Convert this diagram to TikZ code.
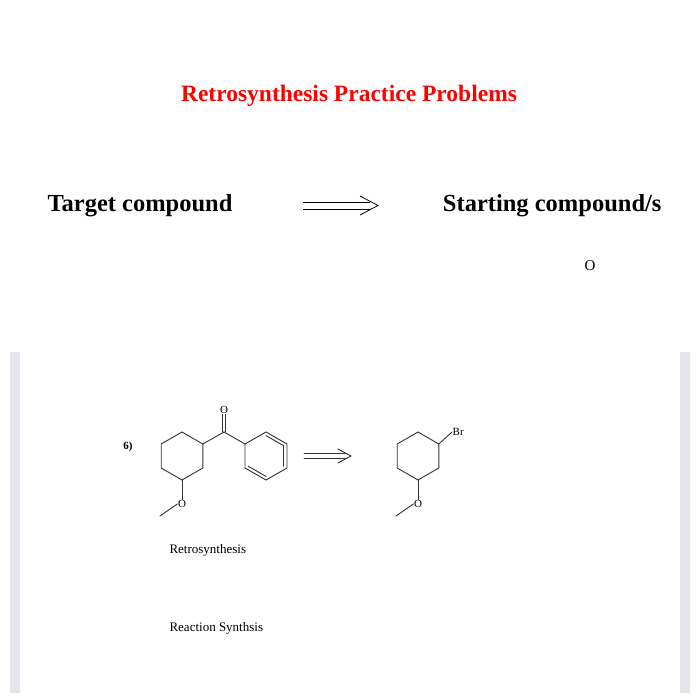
\documentclass[tikz,border=0pt]{standalone}
\usepackage{fontspec}
\setmainfont{Liberation Serif}
\usetikzlibrary{arrows.meta,calc}
\definecolor{barc}{HTML}{E4E4EC}
\begin{document}
\begin{tikzpicture}[x=1pt,y=-1pt,bond/.style={line width=0.9pt,line cap=round,draw=black!80},
  atom/.style={inner sep=0.5pt,font=\fontsize{11}{11}\selectfont},
  rl/.style={line width=0.8pt}]
\useasboundingbox (0,0) rectangle (700,700);
\fill[white] (0,0) rectangle (700,700);
\fill[barc] (10,352) rectangle (20,693);
\fill[barc] (680,352) rectangle (690,693);
\node[font=\fontsize{23.5}{24}\selectfont\bfseries,text=red] (title) at (349,96) {Retrosynthesis Practice Problems};
\node[font=\fontsize{24.5}{25}\selectfont\bfseries,anchor=west] (tgt) at (44,206) {Target compound};
\node[font=\fontsize{24.5}{25}\selectfont\bfseries,anchor=east] (st) at (665,206) {Starting compound/s};
% big retro arrow
\coordinate (a1) at (303,202); \coordinate (a1b) at (303,209);
\coordinate (a2) at (370,202); \coordinate (a2b) at (370,209);
\coordinate (at) at (378,205.5); \coordinate (au) at (360,196); \coordinate (ad) at (360,215);
\draw[rl] (a1) -- (a2); \draw[rl] (a1b) -- (a2b);
\draw[rl] (au) -- (at) -- (ad);
\node[font=\fontsize{15}{15}\selectfont] (o0) at (590,266) {O};
\node[font=\fontsize{11}{11}\selectfont\bfseries] (six) at (128,447) {6)};
% molecule 1
\coordinate (c1) at (182,432); \coordinate (c2) at (202.8,444); \coordinate (c3) at (202.8,468);
\coordinate (c4) at (182,480); \coordinate (c5) at (161.2,468); \coordinate (c6) at (161.2,444);
\draw[bond] (c1)--(c2)--(c3)--(c4)--(c5)--(c6)--cycle;
\node[atom] (o1) at (182,504) {O};
\coordinate (m1) at (160,516);
\draw[bond] (c4)--(o1.north); \draw[bond] (o1.west)--(m1);
\coordinate (k) at (224,432);
\node[atom] (o2) at (224,410) {O};
\draw[bond] (c2)--(k);
\draw[bond] ([xshift=-1.5pt]k)--([xshift=-1.5pt]o2.south);
\draw[bond] ([xshift=1.5pt]k)--([xshift=1.5pt]o2.south);
\coordinate (b1) at (245,444); \coordinate (b2) at (266,432); \coordinate (b3) at (287,444);
\coordinate (b4) at (287,468); \coordinate (b5) at (266,480); \coordinate (b6) at (245,468);
\coordinate (bc) at (266,456);
\draw[bond] (k)--(b1);
\draw[bond] (b1)--(b2)--(b3)--(b4)--(b5)--(b6)--cycle;
\draw[bond] ($(b2)!0.15!(bc)$) -- ($(b3)!0.15!(bc)$);
\draw[bond] ($(b3)!0.15!(bc)$) -- ($(b4)!0.15!(bc)$);
\draw[bond] ($(b5)!0.15!(bc)$) -- ($(b6)!0.15!(bc)$);
% small retro arrow
\coordinate (r1) at (304,453.5); \coordinate (r1b) at (304,458.5);
\coordinate (r2) at (345,453.5); \coordinate (r2b) at (345,458.5);
\coordinate (rt) at (351,456); \coordinate (ru) at (338,449); \coordinate (rd) at (338,463);
\draw[bond] (r1) -- (r2); \draw[bond] (r1b) -- (r2b);
\draw[bond] (ru) -- (rt) -- (rd);
% molecule 2
\coordinate (d1) at (418,432); \coordinate (d2) at (438.8,444); \coordinate (d3) at (438.8,468);
\coordinate (d4) at (418,480); \coordinate (d5) at (397.2,468); \coordinate (d6) at (397.2,444);
\draw[bond] (d1)--(d2)--(d3)--(d4)--(d5)--(d6)--cycle;
\node[atom,anchor=west] (br) at (452,432) {Br};
\draw[bond] (d2)--(br.west);
\node[atom] (o3) at (418,504) {O};
\coordinate (m2) at (396,516);
\draw[bond] (d4)--(o3.north); \draw[bond] (o3.west)--(m2);
\node[font=\fontsize{13}{13}\selectfont,anchor=west] (rs) at (166,550) {Retrosynthesis};
\node[font=\fontsize{13}{13}\selectfont,anchor=west] (rx) at (166,628) {Reaction Synthsis};
\end{tikzpicture}
\end{document}
